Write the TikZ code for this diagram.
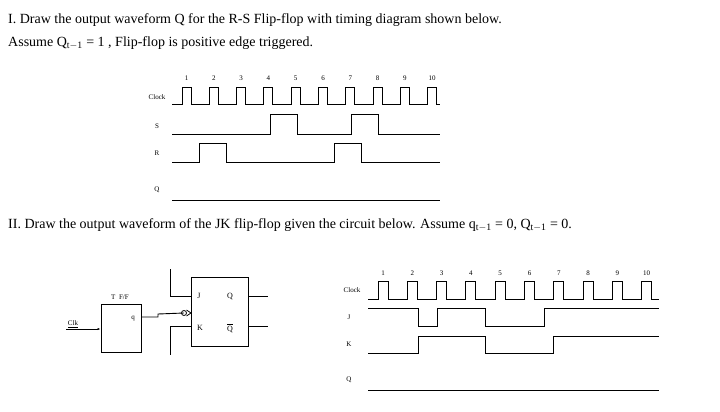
\documentclass[tikz,border=0pt]{standalone}
\usepackage{fontspec}
\setmainfont{Liberation Serif}
\usetikzlibrary{arrows.meta}
\begin{document}
\begin{tikzpicture}[x=1pt,y=-1pt,
  wave/.style={line width=0.9pt},
  lbl/.style={font=\fontsize{7}{8}\selectfont,inner sep=0pt},
  hdr/.style={font=\fontsize{14}{16}\selectfont,anchor=west,inner sep=0pt}]
\useasboundingbox (0,0) rectangle (720,412);
\node[hdr] (t1) at (8,20) {I. Draw the output waveform Q for the R-S Flip-flop with timing diagram shown below.};
\node[hdr] (t2) at (8,43) {Assume Q$_{\mathrm{t-1}}$ = 1 , Flip-flop is positive edge triggered.};
\node[hdr] (t3) at (8,225) {II. Draw the output waveform of the JK flip-flop given the circuit below. Assume q$_{\mathrm{t-1}}$ = 0, Q$_{\mathrm{t-1}}$ = 0.};
% top timing
\foreach \i in {1,...,10}{
  \pgfmathsetmacro\xr{182+27.3*(\i-1)}
  \node[lbl] (n\i) at (\xr+4.5,78) {\i};
}
\draw[wave] (172,104) \foreach \i in {1,...,10}{ -- ({182+27.3*(\i-1)},104) -- ({182+27.3*(\i-1)},87) -- ({191+27.3*(\i-1)},87) -- ({191+27.3*(\i-1)},104)} -- (440,104);
\node[lbl] (lc) at (157,97) {Clock};
\node[lbl] (ls) at (157,126) {S};
\node[lbl] (lr) at (157,153) {R};
\node[lbl] (lq) at (157,190) {Q};
\draw[wave] (172,134) -- (270,134) -- (270,114) -- (297,114) -- (297,134) -- (351,134) -- (351,114) -- (378,114) -- (378,134) -- (440,134);
\draw[wave] (172,162) -- (199,162) -- (199,143) -- (226,143) -- (226,162) -- (334,162) -- (334,143) -- (361,143) -- (361,162) -- (440,162);
\draw[wave] (172,200) -- (440,200);
% bottom timing
\foreach \i in {1,...,10}{
  \pgfmathsetmacro\xr{378+29.3*(\i-1)}
  \node[lbl] (m\i) at (\xr+5,273) {\i};
}
\draw[wave] (368,299) \foreach \i in {1,...,10}{ -- ({378+29.3*(\i-1)},299) -- ({378+29.3*(\i-1)},281) -- ({388+29.3*(\i-1)},281) -- ({388+29.3*(\i-1)},299)} -- (659,299);
\node[lbl] (bc) at (352,290) {Clock};
\node[lbl] (bj) at (349,317) {J};
\node[lbl] (bk) at (349,344) {K};
\node[lbl] (bq) at (349,380) {Q};
\draw[wave] (368,308) -- (418,308) -- (418,326) -- (437,326) -- (437,308) -- (485,308) -- (485,326) -- (544,326) -- (544,308) -- (659,308);
\draw[wave] (368,353) -- (418,353) -- (418,336) -- (485,336) -- (485,353) -- (553,353) -- (553,336) -- (659,336);
\draw[wave] (368,390) -- (659,390);
% circuit
\node[draw,line width=0.9pt,minimum width=40pt,minimum height=48pt,inner sep=0pt] (tff) at (121,328) {};
\node[lbl] (tffl) at (120,297) {T\ \ F/F};
\node[lbl] (q) at (133,319) {q};
\node[lbl] (clk) at (73,324) {\underline{Clk}};
\coordinate (clkin) at (66,329);
\draw[line width=0.9pt,-{Latex[length=3pt]}] (clkin) -- (tff.west |- clkin);
\node[draw,line width=0.9pt,minimum width=57pt,minimum height=69pt,inner sep=0pt] (jk) at (219.5,311.5) {};
\node[lbl,font=\fontsize{8}{9}\selectfont] (jl) at (199,296) {J};
\node[lbl,font=\fontsize{8}{9}\selectfont] (kl) at (200,328) {K};
\node[lbl,font=\fontsize{8}{9}\selectfont] (ql) at (230,296) {Q};
\node[lbl,font=\fontsize{8}{9}\selectfont] (qbl) at (230,328) {$\overline{\mbox{Q}}$};
\coordinate (a1) at (158,317);
\coordinate (a2) at (158,314);
\coordinate (bub) at (184,313);
\draw[line width=0.9pt] (tff.east |- a1) -- (a1) -- (a2) -- (bub);
\draw[line width=0.8pt] (bub) circle (2.5pt);
\draw[line width=0.8pt] (186.5,310) -- (191,313) -- (186.5,316);
\coordinate (jt) at (170,269);
\coordinate (jc) at (170,296);
\coordinate (kb) at (170,355);
\coordinate (kc) at (170,326);
\draw[line width=0.9pt] (jt) -- (jc) -- (jk.west |- jc);
\draw[line width=0.9pt] (jk.west |- kc) -- (kc) -- (kb);
\coordinate (qo) at (268,296);
\coordinate (qbo) at (268,326);
\draw[line width=0.9pt] (jk.east |- qo) -- (qo);
\draw[line width=0.9pt] (jk.east |- qbo) -- (qbo);
\end{tikzpicture}
\end{document}
